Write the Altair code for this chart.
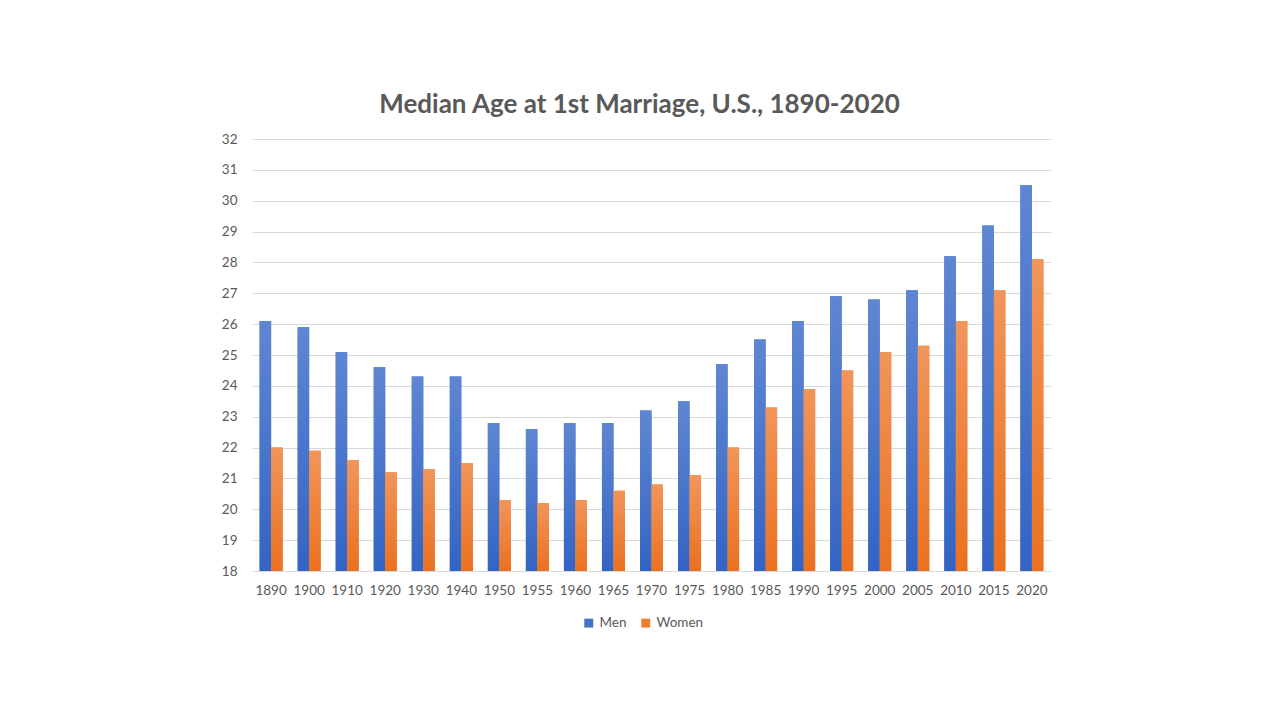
import altair as alt
import pandas as pd

years = ["1890", "1900", "1910", "1920", "1930", "1940", "1950", "1955", "1960", "1965",
         "1970", "1975", "1980", "1985", "1990", "1995", "2000", "2005", "2010", "2015", "2020"]
men = [26.1, 25.9, 25.1, 24.6, 24.3, 24.3, 22.8, 22.6, 22.8, 22.8,
       23.2, 23.5, 24.7, 25.5, 26.1, 26.9, 26.8, 27.1, 28.2, 29.2, 30.5]
women = [22.0, 21.9, 21.6, 21.2, 21.3, 21.5, 20.3, 20.2, 20.3, 20.6,
         20.8, 21.1, 22.0, 23.3, 23.9, 24.5, 25.1, 25.3, 26.1, 27.1, 28.1]
series = ["Men", "Women"]

rows = []
for y, m, w in zip(years, men, women):
    rows.append({"year": y, "series": "Men", "value": m})
    rows.append({"year": y, "series": "Women", "value": w})
df = pd.DataFrame(rows)

FONT = "Lato"
GRAY = "#595959"
GRID = "#d9d9d9"

grad_men = alt.Gradient(gradient="linear", x1=0, x2=0, y1=0, y2=1,
                        stops=[alt.GradientStop(color="#5f86d2", offset=0),
                               alt.GradientStop(color="#3364c4", offset=1)])
grad_women = alt.Gradient(gradient="linear", x1=0, x2=0, y1=0, y2=1,
                          stops=[alt.GradientStop(color="#f1955b", offset=0),
                                 alt.GradientStop(color="#ea7120", offset=1)])

x_enc = alt.X("year:N", sort=years, title=None,
              scale=alt.Scale(paddingInner=0.395, paddingOuter=0.2),
              axis=alt.Axis(labelAngle=0, ticks=False, domainColor=GRID, labelColor=GRAY,
                            labelFont=FONT, labelFontSize=13.5, labelPadding=12, grid=False))
xo_enc = alt.XOffset("series:N", sort=series, scale=alt.Scale(paddingInner=0, paddingOuter=0))
y_enc = alt.Y("value:Q", title=None,
              scale=alt.Scale(domain=[18, 32], zero=False, nice=False),
              axis=alt.Axis(values=list(range(18, 33)), ticks=False, domain=False,
                            gridColor=GRID, labelColor=GRAY, labelFont=FONT, labelFontSize=13.5,
                            labelPadding=15))

base = alt.Chart(df)

legend_layer = base.mark_bar().encode(
    x=x_enc, xOffset=xo_enc, y=y_enc, y2=alt.datum(18),
    color=alt.Color("series:N", sort=series, title=None,
                    scale=alt.Scale(domain=series, range=["#4472c4", "#ed7d31"]),
                    legend=alt.Legend(orient="none", legendX=330, legendY=477,
                                      direction="horizontal",
                                      symbolType="square", symbolSize=80,
                                      labelFont=FONT, labelFontSize=13.5, labelColor=GRAY,
                                      symbolStrokeWidth=0, columnPadding=12, labelOffset=4)),
)

grad_layer = base.mark_bar().encode(
    x=x_enc, xOffset=xo_enc, y=y_enc, y2=alt.datum(18),
    fill=alt.condition(alt.datum.series == "Men", alt.value(grad_men), alt.value(grad_women)),
)

chart = alt.layer(legend_layer, grad_layer).properties(
    width=799, height=432,
    background="white",
    title=alt.TitleParams("Median Age at 1st Marriage, U.S., 1890-2020", font=FONT,
                          fontSize=26, fontWeight="bold", color=GRAY, anchor="middle",
                          offset=14, dx=-12),
    padding={"left": 213, "top": 84, "right": 5, "bottom": 5},
).configure_view(strokeWidth=0, stroke="transparent")

chart.save("out.html", embed_options={"renderer": "svg", "actions": False})
